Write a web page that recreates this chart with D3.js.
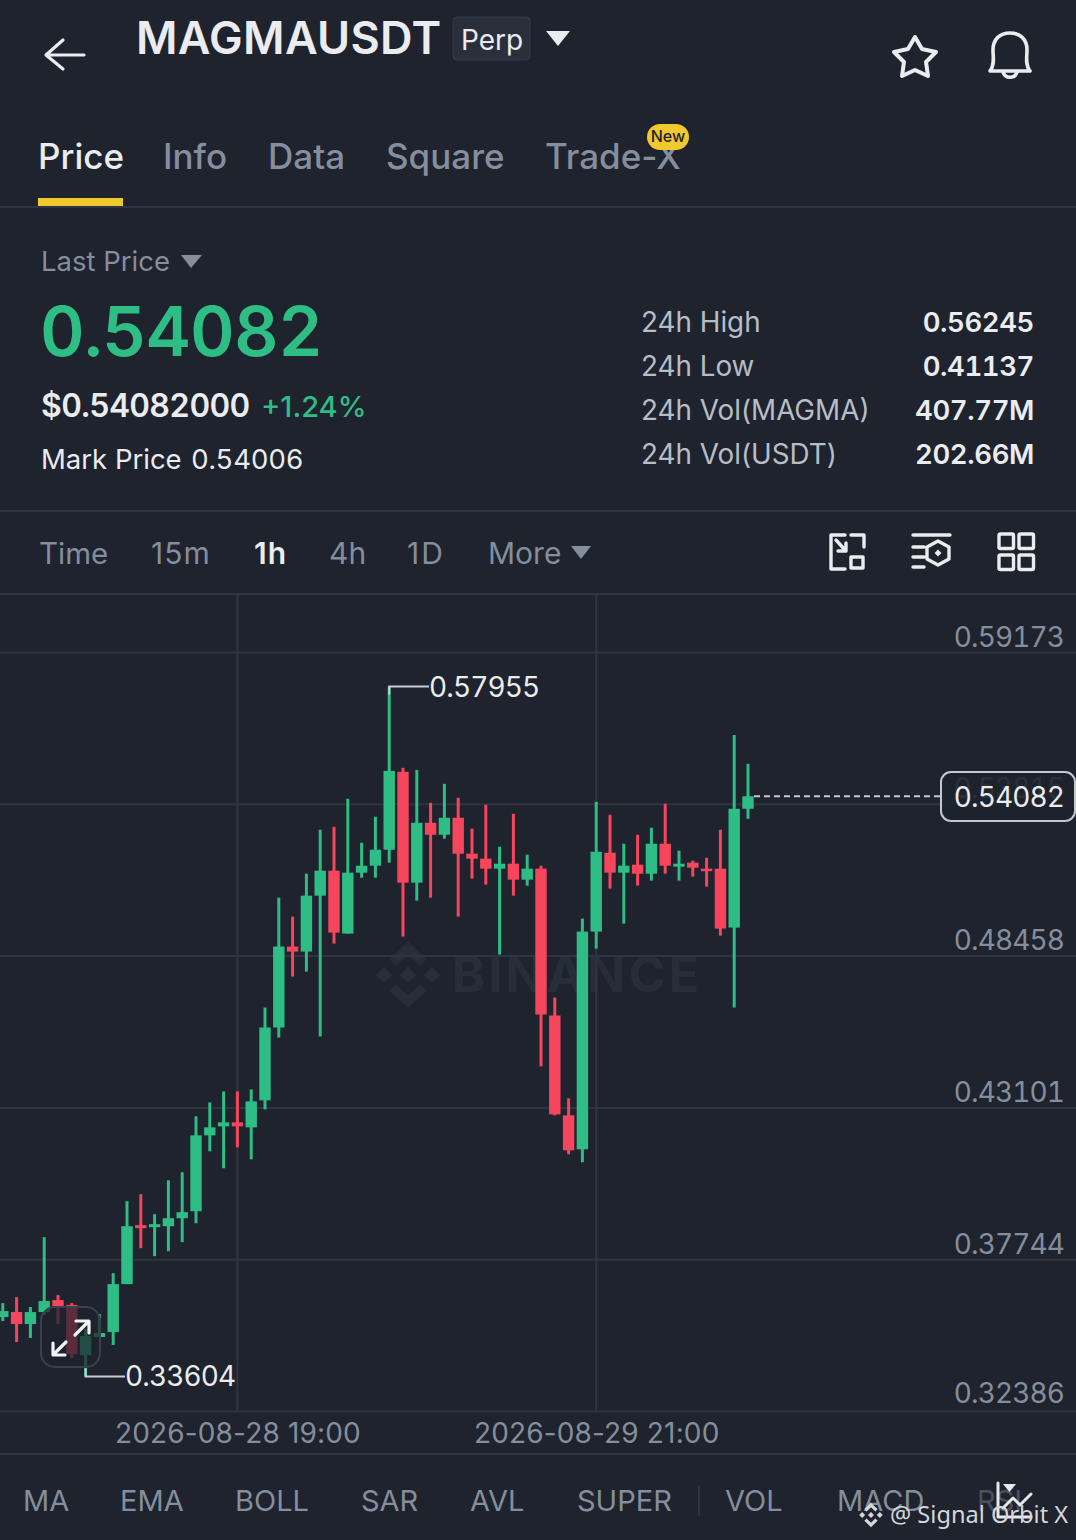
<!DOCTYPE html>
<html>
<head>
<meta charset="utf-8">
<script src="https://cdn.jsdelivr.net/npm/d3@7"></script>
<style>
  html, body { margin: 0; padding: 0; background: #1e232e; }
  svg { display: block; }
  text { font-family: Inter, "Noto Sans", sans-serif; }
  .num, .num text { font-variant-numeric: tabular-nums; font-feature-settings: "tnum"; }
</style>
</head>
<body>
<script>
// Candles, one per hour
var opens = [
  .35702, .35878, .35455, .35878, .36301, .36125, .34362, .34997, .35173, .36864, .38944,
  .38873, .38908, .39190, .39437, .42115, .42432, .42573, .42397, .43349, .45921, .48777,
  .48600, .50574, .51455, .49235, .51385, .51631, .52195, .54944, .51032, .53146, .52724,
  .53323, .52054, .51878, .51526, .51702, .51138, .51526, .46344, .42820, .41622, .49305,
  .52089, .51385, .51667, .51349, .52406, .51596, .51737, .51526, .51526, .49446, .53640
];
var highs = [
  .36195, .36406, .36054, .38521, .36477, .36195, .35279, .35807, .37252, .39790, .40036,
  .39331, .40530, .40812, .42785, .43278, .43666, .43666, .43736, .46626, .50503, .49834,
  .51349, .52900, .53005, .53992, .52442, .53358, .57955, .55085, .55014, .53851, .54521,
  .54027, .52935, .53781, .52301, .53464, .52019, .51631, .46978, .43419, .49763, .53887,
  .53428, .52406, .52724, .52970, .53816, .52160, .51807, .51913, .52900, .56247, .55226
];
var lows = [
  .35561, .34821, .34962, .35772, .35455, .34257, .33604, .34997, .34715, .36864, .38133,
  .37851, .38027, .38345, .39014, .41551, .40953, .41692, .41269, .43032, .45569, .47719,
  .47895, .45604, .48882, .49235, .51208, .51208, .51737, .49129, .50398, .50503, .52583,
  .49834, .51173, .50962, .48494, .50574, .50926, .44547, .42820, .41446, .41164, .48705,
  .50821, .49587, .50926, .51103, .51349, .51103, .51244, .50891, .49164, .46626, .53287
];
var closes = [
  .35913, .35455, .35878, .36266, .36089, .34398, .35032, .35138, .36864, .38908, .38838,
  .38979, .39190, .39402, .42115, .42397, .42573, .42432, .43314, .45921, .48777, .48600,
  .50574, .51455, .49270, .51385, .51631, .52195, .54979, .51032, .53146, .52724, .53323,
  .52054, .51878, .51526, .51702, .51138, .51526, .46379, .42855, .41586, .49305, .52124,
  .51385, .51631, .51349, .52406, .51631, .51702, .51561, .51455, .49411, .53640, .54082
];

// Axis ticks
var priceTicks = [0.59173, 0.53815, 0.48458, 0.43101, 0.37744, 0.32386];
var timeTickIndex = [17, 43];
var timeTickLabels = ['2026-08-28 19:00', '2026-08-29 21:00'];

var lastPrice = 0.54082, highMark = 0.57955, lowMark = 0.33604;
var highIndex = 28, lowIndex = 6;

// Page texts
var tabs = ['Price', 'Info', 'Data', 'Square', 'Trade-X'];
var intervals = ['Time', '15m', '1h', '4h', '1D', 'More'];
var indicators = ['MA', 'EMA', 'BOLL', 'SAR', 'AVL', 'SUPER', 'VOL', 'MACD', 'RSI'];
var statNames = ['24h High', '24h Low', '24h Vol(MAGMA)', '24h Vol(USDT)'];
var statValues = ['0.56245', '0.41137', '407.77M', '202.66M'];

var width = 1076, height = 1540;
var bg = '#1e232e', up = '#2ebd85', down = '#f6465d', grid = '#2f3540';
var white = '#eaecef', grey = '#848e9c';

var svg = d3.select('body').append('svg')
  .attr('width', width)
  .attr('height', height);

svg.append('rect').attr('width', width).attr('height', height).attr('fill', bg);

function label(x, y, str, size, fill, weight, anchor) {
  return svg.append('text')
    .attr('x', x).attr('y', y)
    .attr('font-size', size)
    .attr('fill', fill)
    .attr('font-weight', weight || 400)
    .attr('text-anchor', anchor || 'start')
    .text(str);
}

// tabular figures, squeezed a bit to the width of the app's own font
function numLabel(x, y, str, size, fill, weight, anchor, spacing) {
  return label(x, y, str, size, fill, weight, anchor)
    .attr('class', 'num')
    .attr('letter-spacing', spacing);
}

function icon(d, sw, color) {
  return svg.append('path')
    .attr('d', d)
    .attr('fill', 'none')
    .attr('stroke', color || white)
    .attr('stroke-width', sw)
    .attr('stroke-linecap', 'round')
    .attr('stroke-linejoin', 'round');
}

function hline(y, color, sw) {
  svg.append('line').attr('x1', 0).attr('x2', width).attr('y1', y).attr('y2', y)
    .attr('stroke', color || grid).attr('stroke-width', sw || 2);
}

function diamond(parent, cx, cy, r) {
  return parent.append('path')
    .attr('d', 'M' + (cx - r) + ' ' + cy + 'L' + cx + ' ' + (cy - r) + 'L' + (cx + r) + ' ' + cy + 'L' + cx + ' ' + (cy + r) + 'Z');
}

// Binance logo: two chevrons and three small diamonds
function logo(cx, cy, s, color) {
  var l = svg.append('g').attr('fill', color);
  diamond(l, cx, cy, s * 0.27);
  diamond(l, cx - s * 0.8, cy, s * 0.27);
  diamond(l, cx + s * 0.8, cy, s * 0.27);
  [-1, 1].forEach(function(k) {
    svg.append('path')
      .attr('d', 'M' + (cx - s * 0.5) + ' ' + (cy + k * s * 0.42) + 'L' + cx + ' ' + (cy + k * s * 0.9) + 'L' + (cx + s * 0.5) + ' ' + (cy + k * s * 0.42))
      .attr('fill', 'none').attr('stroke', color).attr('stroke-width', s * 0.3);
  });
}

// Header
icon('M84 55H47M63 40L46 55L63 69', 3.2);
label(136, 54, 'MAGMAUSDT', 45, white, 600).attr('letter-spacing', 0.3);
svg.append('rect').attr('x', 453).attr('y', 17).attr('width', 77).attr('height', 43).attr('rx', 4)
  .attr('fill', '#2a303b').attr('stroke', '#343a46');
label(461, 50, 'Perp', 28, white);
svg.append('path').attr('d', 'M546 31H570L558 46Z').attr('fill', white);
icon('M915 37L922 49L936 52L926 62L928 76L915 70L902 76L904 62L894 52L908 49Z', 4);
icon('M990 71C995 65 993 57 993 50C993 39 1000 33 1010 33C1020 33 1027 39 1027 50C1027 57 1025 65 1030 71ZM1003 72C1005 79 1015 79 1017 72', 3.6);

// Tabs
var tabX = [38, 163, 268, 386, 545];
tabs.forEach(function(t, i) {
  label(tabX[i], 169, t, 35, i === 0 ? white : grey, 500);
});
svg.append('rect').attr('x', 38).attr('y', 198).attr('width', 85).attr('height', 9).attr('fill', '#f0c92f');
hline(207);
svg.append('rect').attr('x', 647).attr('y', 124).attr('width', 42).attr('height', 26).attr('rx', 13).attr('fill', '#f0c92f');
label(668, 142, 'New', 16, '#1e232e', 500, 'middle');

// Price block
label(41, 271, 'Last Price', 27.5, grey);
svg.append('path').attr('d', 'M181 255H202L191 268Z').attr('fill', grey);
numLabel(40, 356, '0.54082', 69, up, 600, 'start', -0.6);
numLabel(41, 417, '$0.54082000', 32, white, 600, 'start', -0.65);
label(261, 417, '+1.24%', 29, up, 500);
label(41, 469, 'Mark Price', 27.5, white);
numLabel(191, 469, '0.54006', 27.5, white, 400, 'start', -0.3);

statNames.forEach(function(s, i) {
  label(641, 332 + i * 44, s, 27.8, '#b7bdc6');
  numLabel(1034, 332 + i * 44, statValues[i], 27.5, white, 600, 'end', -0.4);
});
hline(511);

// Interval row
var intervalX = [39, 151, 254, 329, 407, 488];
var intervalSpacing = [0, 1, 1, 0, 2, 0];
intervals.forEach(function(t, i) {
  label(intervalX[i], 564, t, i === 0 ? 29.5 : 30, i === 2 ? white : grey, i === 2 ? 600 : 400)
    .attr('letter-spacing', intervalSpacing[i]);
});
svg.append('path').attr('d', 'M571 546H591L581 559Z').attr('fill', grey);
icon('M845 535H831V569H845M851 535H864V547M836 540L846 551M846 543V551H838', 3.4);
icon('M851 557H863V568H851Z', 3.4);
icon('M913 535H950M913 547H924M913 557H924M913 567H924M938 541L949 547V559L938 565L927 559V547Z', 3.4);
diamond(svg, 938, 553, 3.4).attr('fill', white);
[[999, 534], [1019, 534], [999, 555], [1019, 555]].forEach(function(p) {
  svg.append('rect').attr('x', p[0]).attr('y', p[1]).attr('width', 14.5).attr('height', 14.5).attr('rx', 1.5)
    .attr('fill', 'none').attr('stroke', white).attr('stroke-width', 3.4);
});
hline(594);

// Chart
var candles = opens.map(function(o, i) {
  return { i: i, open: o, high: highs[i], low: lows[i], close: closes[i] };
});

var x = d3.scaleLinear().domain([0, 54]).range([2.8, 748]);
var y = d3.scaleLinear().domain([0.59173, 0.32386]).range([652, 1411]);

// Binance watermark, under the grid and candles
logo(408, 975, 30, '#282e39');
label(452, 992, 'BINANCE', 50, '#282e39', 700).attr('letter-spacing', 3.2);

var yAxis = d3.axisRight(y)
  .tickValues(priceTicks)
  .tickSize(width)
  .tickFormat(d3.format('.5f'));

var yG = svg.append('g').attr('class', 'num').call(yAxis);
yG.select('.domain').remove();
yG.selectAll('line').attr('stroke', grid).attr('stroke-width', 2);
yG.selectAll('text')
  .attr('x', 1064)
  .attr('dy', function(d, i) { return i === 5 ? -9 : -6; })
  .attr('text-anchor', 'end')
  .attr('font-size', 28)
  .attr('letter-spacing', -0.9)
  .attr('fill', grey);

var xAxis = d3.axisBottom(x)
  .tickValues(timeTickIndex)
  .tickSize(0)
  .tickFormat(function(d, i) { return timeTickLabels[i]; });

var xG = svg.append('g').attr('transform', 'translate(0,1411)').call(xAxis);
xG.select('.domain').remove();
xG.selectAll('text')
  .attr('y', 12).attr('dy', '.71em')
  .attr('font-size', 28)
  .attr('letter-spacing', 0.15)
  .attr('fill', grey);

svg.selectAll('.vgrid')
  .data(timeTickIndex)
  .enter()
  .append('line')
  .attr('class', 'vgrid')
  .attr('x1', x).attr('x2', x)
  .attr('y1', 594).attr('y2', 1411)
  .attr('stroke', grid).attr('stroke-width', 2);

function candleColor(d) {
  return d.close >= d.open ? up : down;
}

var g = svg.append('g');

g.selectAll('.wick')
  .data(candles)
  .enter()
  .append('line')
  .attr('class', 'wick')
  .attr('x1', function(d) { return x(d.i); })
  .attr('x2', function(d) { return x(d.i); })
  .attr('y1', function(d) { return y(d.high); })
  .attr('y2', function(d) { return y(d.low); })
  .attr('stroke', candleColor)
  .attr('stroke-width', 3);

g.selectAll('.body')
  .data(candles)
  .enter()
  .append('rect')
  .attr('class', 'body')
  .attr('x', function(d) { return x(d.i) - 5.7; })
  .attr('width', 11.4)
  .attr('y', function(d) { return y(Math.max(d.open, d.close)); })
  .attr('height', function(d) { return Math.max(2.5, Math.abs(y(d.open) - y(d.close))); })
  .attr('fill', candleColor);

// High and low markers
svg.append('path')
  .attr('d', 'M' + x(highIndex) + ' ' + (y(highMark) + 8) + 'V' + y(highMark) + 'H429')
  .attr('fill', 'none').attr('stroke', '#c9ced6').attr('stroke-width', 2);
numLabel(429, 697, d3.format('.5f')(highMark), 28, white, 400, 'start', -0.9);
svg.append('path')
  .attr('d', 'M' + x(lowIndex) + ' ' + (y(lowMark) - 8) + 'V' + y(lowMark) + 'H125')
  .attr('fill', 'none').attr('stroke', '#c9ced6').attr('stroke-width', 2);
numLabel(125, 1386, d3.format('.5f')(lowMark), 28, white, 400, 'start', -0.9);

// Expand button over the first candles
svg.append('rect')
  .attr('x', 41).attr('y', 1307).attr('width', 59).attr('height', 60).attr('rx', 14)
  .attr('fill', bg).attr('fill-opacity', 0.72)
  .attr('stroke', '#3b414c').attr('stroke-width', 2);
icon('M75 1335L88 1322M76 1321H89V1333M66 1342L54 1354M53 1343V1355H65', 3.2, '#f0f2f5');

// Last price line and tag
svg.append('line')
  .attr('x1', x(54) + 6).attr('x2', 941)
  .attr('y1', y(lastPrice)).attr('y2', y(lastPrice))
  .attr('stroke', '#c4c9d0').attr('stroke-width', 2).attr('stroke-dasharray', '6 4');
svg.append('rect')
  .attr('x', 941).attr('y', 772).attr('width', 134).attr('height', 49).attr('rx', 10)
  .attr('fill', bg).attr('fill-opacity', 0.88)
  .attr('stroke', '#c4c9d0').attr('stroke-width', 2);
numLabel(1064, 807, d3.format('.5f')(lastPrice), 28, white, 400, 'end', -0.9);

// Indicator row
hline(1454);
var indicatorX = [23, 120, 235, 361, 470, 577, 725, 837, 977];
indicators.forEach(function(t, i) {
  label(indicatorX[i], 1511, t, 29, i === 8 ? '#4a505c' : grey, 400);
});
svg.append('line').attr('x1', 699).attr('x2', 699).attr('y1', 1485).attr('y2', 1516)
  .attr('stroke', grid).attr('stroke-width', 2);
icon('M998 1483V1517H1031M1003 1508L1013 1498L1020 1505L1031 1494', 3, '#e6e8eb');
svg.append('path').attr('d', 'M1003 1484H1016L1009.5 1492Z').attr('fill', '#e6e8eb');

// Reposter watermark
logo(871, 1515, 11, '#d5d7da');
label(890, 1523, '@ Signal Orbit X', 23.6, '#d5d7da').style('font-family', '"Noto Sans", sans-serif');
</script>
</body>
</html>
